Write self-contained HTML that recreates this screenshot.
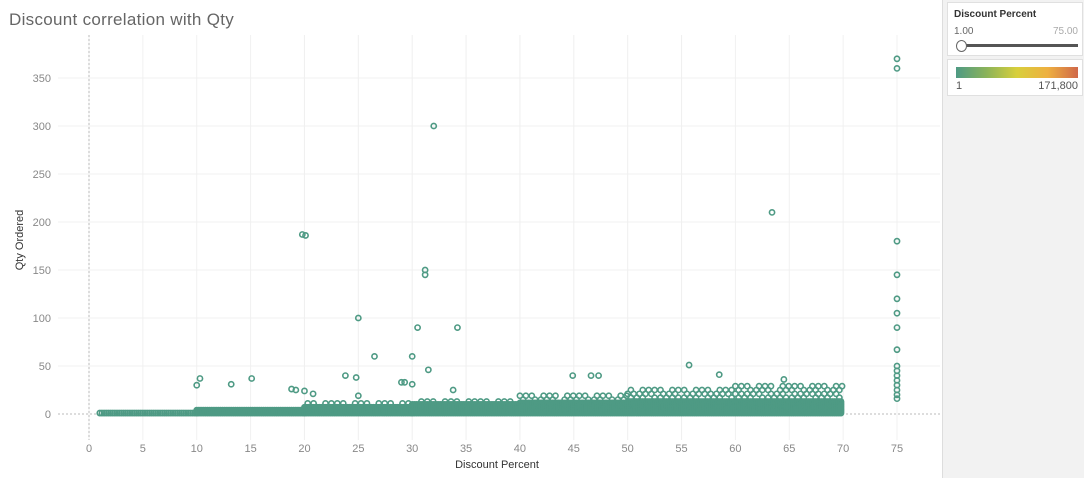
<!DOCTYPE html>
<html><head><meta charset="utf-8"><style>
body{margin:0;width:1084px;height:478px;overflow:hidden;font-family:"Liberation Sans",sans-serif;background:#f2f2f2;position:relative}
#main{position:absolute;left:0;top:0;width:942px;height:478px;background:#fff;border-right:1px solid #ddd}
.t{position:absolute}
</style></head><body>
<div id="main">
<div class="t" style="left:9px;top:10px;font-size:17px;color:#666;letter-spacing:0.3px">Discount correlation with Qty</div>
<svg id="chart" width="942" height="478" style="position:absolute;left:0;top:0"></svg>
</div>
<div class="t" style="left:947px;top:2px;width:134px;height:52px;background:#fff;border:1px solid #e0e0e0">
<div class="t" style="left:6px;top:6px;font-size:10px;font-weight:bold;color:#333">Discount Percent</div>
<div class="t" style="left:6px;top:23px;font-size:10px;color:#666">1.00</div>
<div class="t" style="right:4px;top:23px;font-size:10px;color:#aaa">75.00</div>
<div class="t" style="left:14px;top:41px;width:116px;height:3px;background:#555"></div>
<div class="t" style="left:8px;top:37px;width:9px;height:10px;border:1px solid #666;border-radius:50%;background:#fff"></div>
</div>
<div class="t" style="left:947px;top:59px;width:134px;height:35px;background:#fff;border:1px solid #e0e0e0">
<div class="t" style="left:8px;top:7px;width:122px;height:11px;background:linear-gradient(90deg,#4e9a84,#8bb35a,#d8cf3c,#eeb040,#d0684a)"></div>
<div class="t" style="left:8px;top:20px;font-size:11px;color:#555">1</div>
<div class="t" style="right:4px;top:20px;font-size:11px;color:#555">171,800</div>
</div>
<script>
const xTicks=[0,5,10,15,20,25,30,35,40,45,50,55,60,65,70,75];
const yTicks=[0,50,100,150,200,250,300,350];
const bandStart=[1,10,20,30,40,50,60];
const bandEnd=[10,20,30,40,50,60,70];
const bandSolidTop=[1,5,8,10,12,14,14];
const bandSparseTop=[1,7,11,16,22,26,31];
const outX=[10,10.3,13.2,15.1,18.8,19.2,20,20.8,23.8,24.8,25,25,26.5,29,29.3,30,30,30.5,31.5,31.2,31.2,32,34.2,33.8,19.8,20.1,44.9,46.6,47.3,55.7,58.5,63.4,64.5,75,75,75,75,75,75,75,75,75,75,75,75,75,75,75,75];
const outY=[30,37,31,37,26,25,24,21,40,38,19,100,60,33,33,31,60,90,46,150,145,300,90,25,187,186,40,40,40,51,41,210,36,370,360,180,145,120,105,90,67,50,45,40,35,30,25,20,16];
const svg=document.getElementById('chart');const NS='http://www.w3.org/2000/svg';
const X=v=>89+v*(808/75), Y=v=>414-v*0.96;
function mk(t,a,name){const e=document.createElementNS(NS,t);for(const k in a)e.setAttribute(k,a[k]);


svg.appendChild(e);return e;}
xTicks.forEach(v=>{mk('line',{x1:X(v),x2:X(v),y1:35,y2:440,stroke:'#f0f0f0'},'x-gridline');
const t=mk('text',{x:X(v),y:452,'font-size':11,fill:'#888','text-anchor':'middle'},'x-tick-label');t.textContent=v;});
yTicks.forEach(v=>{if(v>0)mk('line',{x1:58,x2:940,y1:Y(v),y2:Y(v),stroke:'#f0f0f0'},'y-gridline');
const t=mk('text',{x:51,y:Y(v)+4,'font-size':11,fill:'#888','text-anchor':'end'},'y-tick-label');t.textContent=v;});
mk('line',{x1:58,x2:940,y1:Y(0),y2:Y(0),stroke:'#bbb','stroke-dasharray':'2,2'},'zero-line');
mk('line',{x1:X(0),x2:X(0),y1:35,y2:440,stroke:'#bbb','stroke-dasharray':'2,2'},'x-zero-line');
const xt=mk('text',{x:497,y:468,'font-size':11,fill:'#333','text-anchor':'middle'},'x-axis-title');xt.textContent='Discount Percent';
const yt=mk('text',{x:23,y:240,'font-size':11,fill:'#333','text-anchor':'middle',transform:'rotate(-90 23 240)'},'y-axis-title');yt.textContent='Qty Ordered';
const pt={fill:'none',stroke:'#4e9a84','stroke-width':1.6,r:2.6};
bandStart.forEach((s,i)=>{
 for(let d=s;d<=bandEnd[i];d+=0.2){for(let q=1;q<=bandSolidTop[i];q+=1.5){mk('circle',Object.assign({cx:X(d),cy:Y(q)},pt),'band-point');}}
 let k=0;
 for(let q=bandSolidTop[i]+3;q<=bandSparseTop[i];q+=4){k++;for(let d=s+0.3*(k%2);d<=bandEnd[i];d+=0.55){if((Math.floor(d*7+q)%5)!==0)mk('circle',Object.assign({cx:X(d),cy:Y(q)},pt),'band-sparse-point');}}
});
outX.forEach((d,i)=>mk('circle',Object.assign({cx:X(d),cy:Y(outY[i])},pt),'outlier-point'));
</script>
</body></html>
